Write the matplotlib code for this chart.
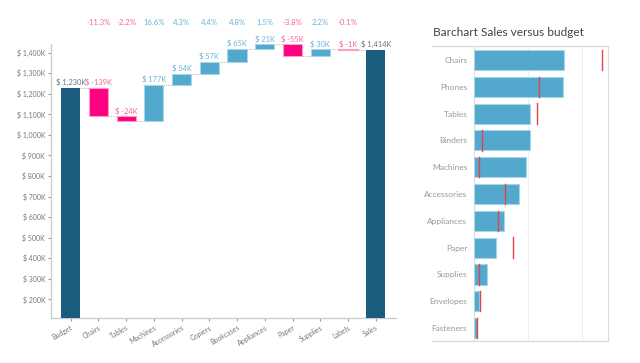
import matplotlib.pyplot as plt
from matplotlib.transforms import blended_transform_factory
from matplotlib.lines import Line2D

# waterfall data (K$)
wf_cats = ["Budget", "Chairs", "Tables", "Machines", "Accessories", "Copiers",
           "Bookcases", "Appliances", "Paper", "Supplies", "Labels", "Sales"]
budget_total = 1230
deltas = [-139, -24, 177, 54, 57, 65, 21, -55, 30, -1]
sales_total = 1414
pct = ["-11.3%", "-2.2%", "16.6%", "4.3%", "4.4%", "4.8%", "1.5%", "-3.8%", "2.2%", "-0.1%"]
ytick_vals = [200, 300, 400, 500, 600, 700, 800, 900, 1000, 1100, 1200, 1300, 1400]

# barchart data (K$)
bar_cats = ["Chairs", "Phones", "Tables", "Binders", "Machines", "Accessories",
            "Appliances", "Paper", "Supplies", "Envelopes", "Fasteners"]
bar_sales = [333, 329, 207, 207, 190, 167, 109, 80, 48, 17, 10]
bar_budget = [474, 240, 233, 28, 16, 115, 89, 144, 18, 22, 10]

DARK = "#1b5b7e"
BLUE = "#52a8cd"
PINK = "#ff0081"
BLUE_TXT = "#6ab4d6"
PINK_TXT = "#f2679f"

plt.rcParams['font.family'] = ['Lato', 'DejaVu Sans']

fig = plt.figure(figsize=(6.4, 3.63), dpi=100)

# ---------- waterfall ----------
ax = fig.add_axes([0.0792, 0.1231, 0.5391, 0.7557])
ax.set_xlim(-0.72, 11.72)
ax.set_ylim(107.5, 1442)
w = 0.69
tr = blended_transform_factory(ax.transData, ax.transAxes)
vfs = 5.4

ax.bar(0, budget_total, width=w, color=DARK, zorder=3)
ax.text(0, budget_total + 8, "$ 1,230K", ha="center", va="bottom", fontsize=vfs, color="#6b7785")
running = budget_total
for i, d in enumerate(deltas, start=1):
    start = running
    end = running + d
    col = BLUE if d > 0 else PINK
    ecol = "#a9d5ea" if d > 0 else "#ff9cc8"
    ax.bar(i, end - start, bottom=start, width=w, color=col, edgecolor=ecol, linewidth=0.8, zorder=3)
    ax.text(i, max(start, end) + 8, f"$ {d}K", ha="center", va="bottom", fontsize=vfs,
            color=BLUE_TXT if d > 0 else PINK_TXT)
    ax.text(i, 1.077, pct[i - 1], transform=tr, ha="center", va="center", fontsize=5.6,
            color=BLUE_TXT if d > 0 else PINK_TXT)
    # connector from previous bar
    ax.plot([i - 1 + w / 2, i - w / 2], [start, start], ls=(0, (1, 1.5)), color="#aaaaaa", lw=0.7, zorder=2)
    running = end
ax.plot([10 + w / 2, 11 - w / 2], [running, running], ls=(0, (1, 1.5)), color="#aaaaaa", lw=0.7, zorder=2)
ax.bar(11, sales_total, width=w, color=DARK, zorder=3)
ax.text(11, sales_total + 8, "$ 1,414K", ha="center", va="bottom", fontsize=vfs, color="#6b7785")

ax.set_yticks(ytick_vals)
ax.set_yticklabels([f"$ {v:,}K" for v in ytick_vals])
ax.set_xticks(range(len(wf_cats)))
ax.set_xticklabels(wf_cats, rotation=30, ha="right", rotation_mode="anchor")
ax.tick_params(axis="both", labelsize=5, colors="#999999", labelcolor="#777777", length=2.5, width=0.8, pad=1.5)
for s in ["top", "right"]:
    ax.spines[s].set_visible(False)
for s in ["left", "bottom"]:
    ax.spines[s].set_color("#cccccc")
    ax.spines[s].set_linewidth(1)

# ---------- barchart ----------
bx = fig.add_axes([0.7411, 0.0614, 0.2094, 0.8119])
bx.set_xlim(0, 496)
bx.set_ylim(len(bar_cats) - 0.53, -0.52)
ypos = list(range(len(bar_cats)))
bx.barh(ypos, bar_sales, height=0.75, color=BLUE, edgecolor="#a9d5ea", linewidth=0.8, zorder=3)
for y, b in zip(ypos, bar_budget):
    bx.plot([b, b], [y - 0.38, y + 0.38], color="#e5434c", lw=1, zorder=4)
bx.set_xticks([200, 400])
bx.xaxis.grid(True, color="#eeeeee", lw=0.8)
bx.tick_params(axis="x", bottom=False, labelbottom=False)
bx.set_yticks(ypos)
bx.set_yticklabels(bar_cats)
bx.tick_params(axis="y", left=False, labelsize=6, labelcolor="#999999", pad=1.5)
for s in ["top", "bottom"]:
    bx.spines[s].set_visible(False)
bx.spines["left"].set_color("#dddddd")
bx.spines["right"].set_color("#dddddd")
for yy in [0, 1]:
    bx.add_line(Line2D([-0.316, 1], [yy, yy], transform=bx.transAxes, color="#dddddd",
                       lw=1, clip_on=False))

fig.text(433 / 640, 1 - 33 / 363, "Barchart Sales versus budget", fontsize=8.6,
         color="#444444", va="center", ha="left")

fig.savefig("out.png", dpi=100)
